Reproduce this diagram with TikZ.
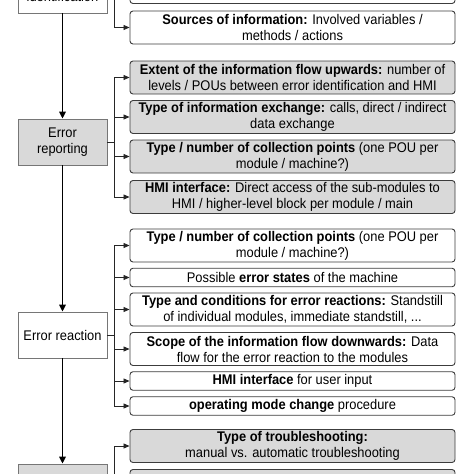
\documentclass[tikz,border=0pt]{standalone}
\usepackage{fontspec}
\setmainfont{Liberation Sans}[FakeStretch=0.92]
\usetikzlibrary{arrows.meta}
\definecolor{boxgray}{RGB}{217,217,217}
\definecolor{edge}{RGB}{60,60,60}
\begin{document}
\begin{tikzpicture}[x=1pt,y=-1pt,
  every node/.style={font=\fontsize{14}{16}\selectfont, align=center, inner sep=1pt},
  rbox/.style={draw=edge, line width=0.9pt, rounded corners=3pt, minimum width=325pt, fill=white},
  lbox/.style={draw=edge!70, line width=0.8pt, minimum width=89pt, minimum height=46pt, fill=white},
  grayfill/.style={fill=boxgray},
  mainarrow/.style={draw=black, line width=1.6pt, -{Triangle[length=7pt,width=6.5pt]}},
  brarrow/.style={draw=black!85, line width=0.8pt, -{Triangle[length=6pt,width=5pt]}},
  two/.style={minimum height=33pt},
  one/.style={minimum height=18.5pt}]
\useasboundingbox (0,0) rectangle (474,474);
\clip (0,0) rectangle (474,474);
% left boxes
\node[lbox, minimum height=48pt] (ident) at (62.5,-11) {Error\\identification};
\node[lbox, grayfill] (rep) at (62.5,142) {Error\\reporting};
\node[lbox] (react) at (62.5,335) {Error reaction};
\node[lbox, grayfill] (trb) at (62.5,487) {};
% right boxes
\node[rbox, two] (top) at (292.5,-13) {};
\node[rbox, two] (src) at (292.5,27.5) {\textbf{Sources of information:} Involved variables /\\methods / actions};
\node[rbox, two, grayfill] (ext) at (292.5,77.5) {\textbf{Extent of the information flow upwards:} number of\\levels / POUs between error identification and HMI};
\node[rbox, two, grayfill] (exch) at (292.5,117) {\textbf{Type of information exchange:} calls, direct / indirect\\data exchange};
\node[rbox, two, grayfill] (coll1) at (292.5,156.5) {\textbf{Type / number of collection points} (one POU per\\module / machine?)};
\node[rbox, two, grayfill] (hmi1) at (292.5,197) {\textbf{HMI interface:} Direct access of the sub-modules to\\HMI / higher-level block per module / main};
\node[rbox, two] (coll2) at (292.5,245.5) {\textbf{Type / number of collection points} (one POU per\\module / machine?)};
\node[rbox, one] (states) at (292.5,277.5) {Possible \textbf{error states} of the machine};
\node[rbox, two] (cond) at (292.5,309.5) {\textbf{Type and conditions for error reactions:} Standstill\\of individual modules, immediate standstill, ...};
\node[rbox, two] (scope) at (292.5,349) {\textbf{Scope of the information flow downwards:} Data\\flow for the error reaction to the modules};
\node[rbox, one] (hmi2) at (292.5,381) {\textbf{HMI interface} for user input};
\node[rbox, one] (mode) at (292.5,406) {\textbf{operating mode change} procedure};
\node[rbox, two, grayfill] (trouble) at (292.5,446) {\textbf{Type of troubleshooting:}\\manual vs. automatic troubleshooting};
\node[rbox, two, grayfill] (next) at (292.5,486) {};
% main flow
\draw[mainarrow] (ident.south) -- (rep.north);
\draw[mainarrow] (rep.south) -- (react.north);
\draw[mainarrow] (react.south) -- (trb.north);
% branches
\foreach \t in {top,src} \draw[brarrow] (ident.east) -- ++(7,0) |- (\t.west);
\foreach \t in {ext,exch,coll1,hmi1} \draw[brarrow] (rep.east) -- ++(7,0) |- (\t.west);
\foreach \t in {coll2,states,cond,scope,hmi2,mode} \draw[brarrow] (react.east) -- ++(7,0) |- (\t.west);
\foreach \t in {trouble,next} \draw[brarrow] (trb.east) -- ++(7,0) |- (\t.west);
\end{tikzpicture}
\end{document}
